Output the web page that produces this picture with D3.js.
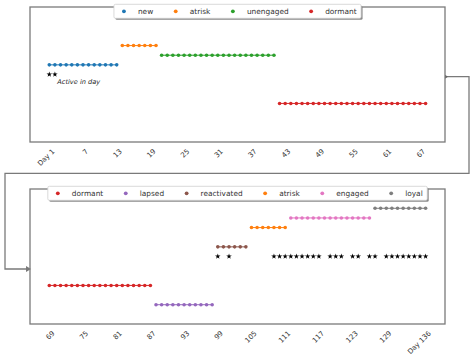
<!DOCTYPE html>
<html><head><meta charset="utf-8">
<script src="https://cdn.jsdelivr.net/npm/d3@7"></script>
<style>body{margin:0;background:#fff}svg{display:block;font-family:"DejaVu Sans",sans-serif}</style>
</head><body><svg id="c" width="474" height="362"></svg>
<script>
// ---- data ----
const stateNames  = ["loyal","engaged","atrisk","unengaged","new","reactivated","dormant","lapsed"];
const stateLevels = [5, 4, 3, 2, 1, 1, -3, -5];
const stateColors = ["#7f7f7f","#e377c2","#ff7f0e","#2ca02c","#1f77b4","#8c564b","#d62728","#9467bd"];

const p1States = ["new","atrisk","unengaged","dormant"];
const p1Start  = [1, 14, 21, 42];
const p1End    = [13, 20, 41, 68];
const p1Active = [1, 2];

const p2States = ["dormant","lapsed","reactivated","atrisk","engaged","loyal"];
const p2Start  = [69, 88, 99, 105, 112, 127];
const p2End    = [87, 98, 104, 111, 126, 136];
const p2Active = [99,101,109,110,111,112,113,114,115,116,117,119,120,121,123,124,126,127,129,130,131,132,133,134,135,136];

const p1TickDays   = [1,7,13,19,25,31,37,43,49,55,61,67];
const p1TickLabels = ["Day 1","7","13","19","25","31","37","43","49","55","61","67"];
const p2TickDays   = [69,75,81,87,93,99,105,111,117,123,129,136];
const p2TickLabels = ["69","75","81","87","93","99","105","111","117","123","129","Day 136"];
const activeLevel = 0;
const activeLabel = "Active in day";

// ---- layout ----
const svg = d3.select("#c");
const frameL = 30, frameR = 445, frameH = 135;
const panels = [
  {top: 7,   first: 1,  states: p1States, start: p1Start, end: p1End, active: p1Active, ticks: p1TickDays, labels: p1TickLabels, note: true},
  {top: 189, first: 69, states: p2States, start: p2Start, end: p2End, active: p2Active, ticks: p2TickDays, labels: p2TickLabels, note: false}
];
const levelOf = d3.scaleOrdinal(stateNames, stateLevels);
const colorOf = d3.scaleOrdinal(stateNames, stateColors);
const x = d3.scaleLinear().domain([0, 67]).range([49.3, 425.6]);

// connector
svg.append("path")
  .attr("d", d3.line()([[frameR,76.7],[469,76.7],[469,173.3],[5,173.3],[5,269],[29,269]]))
  .attr("fill","none").attr("stroke","#7a7a7a").attr("stroke-width",1.3);
svg.append("path").attr("d","M26,266 L31,269 L26,272 Z").attr("fill","#7a7a7a");
svg.append("path").attr("d","M445,74.7 L448,76.7 L445,78.7 Z").attr("fill","#666");

panels.forEach((p) => {
  const g = svg.append("g");
  const y = d3.scaleLinear().domain([-7, 7]).range([p.top + frameH, p.top]);
  g.append("rect").attr("x", frameL).attr("y", p.top).attr("width", frameR - frameL).attr("height", frameH)
    .attr("fill","none").attr("stroke","#7a7a7a").attr("stroke-width",1.3);

  // segments
  p.states.forEach((s, i) => {
    const pts = d3.range(p.start[i], p.end[i] + 1).map(d => [x(d - p.first), y(levelOf(s))]);
    g.append("path").attr("d", d3.line()(pts)).attr("fill","none")
      .attr("stroke", colorOf(s)).attr("stroke-width", 1);
    g.selectAll(null).data(pts).join("circle")
      .attr("cx", d => d[0]).attr("cy", d => d[1]).attr("r", 1.8).attr("fill", colorOf(s));
  });

  // active stars
  const star = d3.symbol().type(d3.symbolStar).size(9.5);
  g.selectAll(null).data(p.active).join("path")
    .attr("d", star)
    .attr("transform", d => `translate(${x(d - p.first)},${y(activeLevel)})`)
    .attr("fill", "#000");
  if (p.note) {
    g.append("text").attr("x", 57.3).attr("y", y(activeLevel) + 9.8)
      .attr("font-size", 6.6).attr("font-style","italic").attr("fill","#222").text(activeLabel);
  }

  // axis (no tick marks, rotated labels)
  const axis = d3.axisBottom(x).tickValues(p.ticks.map(d => d - p.first))
    .tickFormat((d, i) => p.labels[i]).tickSize(0).tickPadding(0);
  const ag = g.append("g").attr("transform", `translate(0,${p.top + frameH})`).call(axis);
  ag.select(".domain").remove();
  ag.selectAll(".tick text").remove();
  ag.selectAll(".tick").append("text")
    .attr("font-size", 7).attr("fill","#333").attr("font-family","DejaVu Sans")
    .attr("text-anchor","end")
    .attr("transform","translate(3.5,8) rotate(-45)")
    .attr("dy","0.35em")
    .text((d, i) => p.labels[i]);

  // legend
  const lg = g.append("g");
  let cx = 0;
  p.states.forEach((s) => {
    const it = lg.append("g");
    it.append("circle").attr("cx", cx).attr("cy", 0).attr("r", 1.9).attr("fill", colorOf(s));
    const t = it.append("text").attr("x", cx + 14).attr("y", 0).attr("dy","0.35em")
      .attr("font-size", 7.4).attr("fill","#333").text(s);
    cx = cx + 14 + t.node().getComputedTextLength() + 22.5;
  });
  const innerW = cx - 22.5;
  const boxW = innerW + 10 + 4.5;
  const boxX = (frameL + frameR) / 2 - boxW / 2;
  const boxY = p.top - 2.7, boxH = 14;
  lg.insert("rect", ":first-child").attr("x", boxX).attr("y", boxY).attr("width", boxW).attr("height", boxH)
    .attr("rx", 1.5).attr("fill","#fff").attr("stroke","#d0d0d0").attr("stroke-width",0.8);
  lg.insert("rect", ":first-child").attr("x", boxX + 1.5).attr("y", boxY + 1.5).attr("width", boxW).attr("height", boxH)
    .attr("rx", 1.5).attr("fill","#8a8a8a");
  lg.selectAll("g").attr("transform", `translate(${boxX + 10},${boxY + boxH / 2})`);
});
</script></body></html>
